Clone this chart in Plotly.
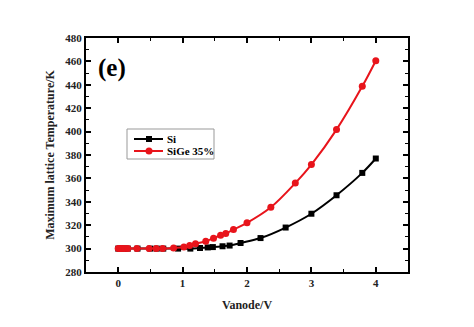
import plotly.graph_objects as go

si_x = [0, 0.03, 0.06, 0.1, 0.15, 0.3, 0.5, 0.6, 0.7, 0.93, 1.12, 1.27, 1.39, 1.47, 1.62, 1.73, 1.9, 2.21, 2.6, 3.0, 3.39, 3.79, 4.0]
si_t = [300, 300, 300, 300, 300, 300, 300, 300, 300, 300, 300, 300.5, 301, 301.3, 302, 302.6, 304.8, 309, 318, 329.8, 345.6, 364.7, 377]

sige_x = [0, 0.03, 0.06, 0.1, 0.15, 0.29, 0.48, 0.59, 0.69, 0.86, 1.02, 1.11, 1.2, 1.36, 1.48, 1.59, 1.67, 1.79, 2.0, 2.37, 2.75, 3.0, 3.39, 3.79, 4.0]
sige_t = [300, 300, 300, 300, 300, 300, 300, 300, 300, 300.5, 301.3, 302.7, 304.2, 306.3, 308.8, 311.5, 313, 316.3, 322, 335.3, 356, 371.8, 401.7, 438.7, 460.6]

x_ticks = [0, 1, 2, 3, 4]
y_ticks = [280, 300, 320, 340, 360, 380, 400, 420, 440, 460, 480]
series_names = ["Si", "SiGe 35%"]
series_colors = ["black", "#e8141b"]

FONT = "Liberation Serif, Times New Roman, serif"
W, H = 474, 327
ML, MR, MT, MB = 86, 66, 38, 55
PW, PH = W - ML - MR, H - MT - MB


def px(xp):
    return (xp - ML) / PW


def py(yp):
    return (H - MB - yp) / PH


fig = go.Figure()
fig.add_trace(go.Scatter(
    x=si_x, y=si_t, name=series_names[0], mode="lines+markers",
    line=dict(color=series_colors[0], width=2, shape="spline"),
    marker=dict(symbol="square", size=6, color=series_colors[0]),
    showlegend=False,
))
fig.add_trace(go.Scatter(
    x=sige_x, y=sige_t, name=series_names[1], mode="lines+markers",
    line=dict(color=series_colors[1], width=2, shape="spline"),
    marker=dict(symbol="circle", size=7, color=series_colors[1]),
    showlegend=False,
))

axis_common = dict(
    showline=True, linecolor="black", linewidth=2, mirror="ticks",
    ticks="inside", ticklen=5, tickwidth=1.5, tickcolor="black",
    showgrid=False, zeroline=False,
    tickfont=dict(family=FONT, size=11, color="#222"),
)

fig.update_xaxes(
    range=[-0.5, 4.5], tickvals=x_ticks,
    ticktext=[f"<b>{v}</b>" for v in x_ticks],
    minor=dict(ticks="inside", ticklen=3, tickwidth=1.2, tickcolor="black", dtick=0.5),
    title=dict(text="<b>Vanode/V</b>", font=dict(family=FONT, size=12, color="#222"), standoff=12),
    **axis_common,
)
fig.update_yaxes(
    range=[280, 480], tickvals=y_ticks,
    ticktext=[f"<b>{v}</b>" for v in y_ticks],
    minor=dict(ticks="inside", ticklen=3, tickwidth=1.2, tickcolor="black", dtick=10),
    title=dict(text="<b>Maximum lattice Temperature/K</b>", font=dict(family=FONT, size=12, color="#222"), standoff=8),
    **axis_common,
)

fig.add_annotation(
    text="<b>(e)</b>", xref="paper", yref="paper", x=px(96), y=py(52),
    xanchor="left", yanchor="top", showarrow=False,
    font=dict(family=FONT, size=25, color="black"),
)

# custom legend box
shapes = [dict(type="rect", xref="paper", yref="paper",
               x0=px(127), x1=px(214), y0=py(159), y1=py(129),
               line=dict(color="#999", width=1), fillcolor="white", layer="above")]
rows = [139, 151]
for i, yy in enumerate(rows):
    c = series_colors[i]
    shapes.append(dict(type="line", xref="paper", yref="paper",
                       x0=px(134), x1=px(163), y0=py(yy), y1=py(yy),
                       line=dict(color=c, width=2), layer="above"))
    if i == 0:
        shapes.append(dict(type="rect", xref="paper", yref="paper",
                           x0=px(146), x1=px(152), y0=py(yy + 3), y1=py(yy - 3),
                           line=dict(color=c, width=0), fillcolor=c, layer="above"))
    else:
        shapes.append(dict(type="circle", xref="paper", yref="paper",
                           x0=px(145.5), x1=px(152.5), y0=py(yy + 3.5), y1=py(yy - 3.5),
                           line=dict(color=c, width=0), fillcolor=c, layer="above"))
    fig.add_annotation(
        text=f"<b>{series_names[i]}</b>", xref="paper", yref="paper",
        x=px(165), y=py(yy), xanchor="left", yanchor="middle", showarrow=False,
        font=dict(family=FONT, size=11, color="black"),
    )

fig.update_layout(
    width=W, height=H,
    margin=dict(l=ML, r=MR, t=MT, b=MB),
    paper_bgcolor="white", plot_bgcolor="white",
    showlegend=False,
    shapes=shapes,
)

fig.write_html("out.html")
